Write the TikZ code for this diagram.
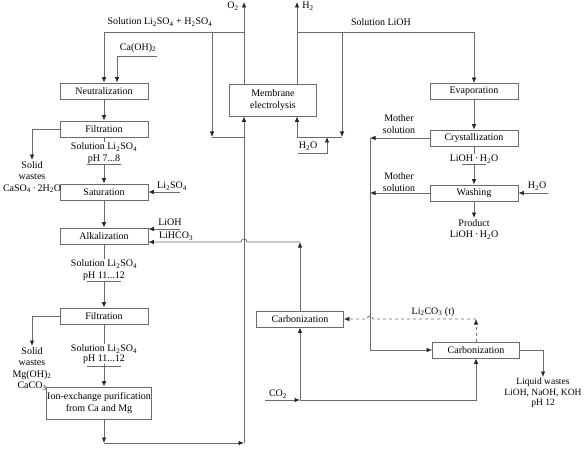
\documentclass[tikz,border=0pt]{standalone}
\usepackage{fontspec}
\setmainfont{Liberation Serif}
\usetikzlibrary{arrows.meta}
\definecolor{linegray}{gray}{0.42}
\newcommand{\chemsub}[1]{\textsubscript{#1}}
\tikzset{
  proc/.style={draw=linegray, line width=0.8pt, minimum width=88pt, minimum height=16pt,
    inner sep=1pt, align=center, font=\fontsize{10}{12}\selectfont},
  lbl/.style={inner sep=1pt, align=center, font=\fontsize{10}{11.5}\selectfont},
  wline/.style={draw=linegray, line width=0.8pt},
  flow/.style={wline, -{Latex[length=5.5pt,width=4.6pt,color=black!85]}}
}
\begin{document}
\begin{tikzpicture}[x=1pt, y=-1pt]
    \useasboundingbox (0,0) rectangle (585,449);

    \node[proc] (neut) at (104,91) {Neutralization};
    \node[proc] (filt1) at (104,129) {Filtration};
    \node[proc] (sat) at (104,192) {Saturation};
    \node[proc] (alk) at (104,236) {Alkalization};
    \node[proc] (filt2) at (104,316) {Filtration};
    \node[proc, minimum width=98pt, minimum height=32pt] (ionex) at (99,403)
        {Ion-exchange purification\\from Ca and Mg};
    \node[proc, minimum width=87pt, minimum height=32pt] (memb) at (273,100)
        {Membrane\\electrolysis};
    \node[proc] (evap) at (474,91.5) {Evaporation};
    \node[proc] (cryst) at (474,138) {Crystallization};
    \node[proc] (wash) at (474,193) {Washing};
    \node[proc, minimum width=87pt] (carbA) at (300,319) {Carbonization};
    \node[proc, minimum width=87pt] (carbB) at (476,350) {Carbonization};

    \coordinate (o2) at (244,2);
    \coordinate (h2) at (297,2);
    \coordinate (acidT) at (244,32);
    \coordinate (acidB) at (212,32);
    \coordinate (acidR) at (212,137);
    \coordinate (membL) at (244,137);
    \coordinate (lioT) at (297,32);
    \coordinate (lioB) at (342,32);
    \coordinate (lioR) at (342,137);
    \coordinate (membR) at (297,137);
    \coordinate (h2oin) at (298,153);
    \coordinate (h2oup) at (327,137);
    \coordinate (caoh) at (157,56);
    \coordinate (li2in) at (180,192);
    \coordinate (liohin) at (180,229);
    \coordinate (hco) at (300,242);
    \coordinate (ionC) at (104,443);
    \coordinate (feedC) at (244,443);
    \coordinate (moth) at (370,138);
    \coordinate (h2oW) at (548,193);
    \coordinate (licO) at (476,319);
    \coordinate (co2in) at (265,400);
    \coordinate (co2c) at (300,400);

    \node[lbl] (o2lbl) at (233,6) {O\chemsub{2}};
    \node[lbl] (h2lbl) at (308,6) {H\chemsub{2}};
    \node[lbl] (acidlbl) at (160,22) {Solution Li\chemsub{2}SO\chemsub{4} + H\chemsub{2}SO\chemsub{4}};
    \node[lbl] (liolbl) at (381,22) {Solution LiOH};
    \node[lbl] (caohlbl) at (138,48) {Ca(OH)\chemsub{2}};
    \node[lbl] (h2olblA) at (308,146) {H\chemsub{2}O};
    \node[lbl, anchor=north] (wasteA) at (32,160)
        {Solid\\wastes\\CaSO\chemsub{4}\,·\,2H\chemsub{2}O};
    \node[lbl] (li2lbl) at (172,186) {Li\chemsub{2}SO\chemsub{4}};
    \node[lbl] (liohlbl) at (170,222) {LiOH};
    \node[lbl] (hcolbl) at (176,236) {LiHCO\chemsub{3}};
    \node[lbl, anchor=north] (wasteB) at (32,346)
        {Solid\\wastes\\Mg(OH)\chemsub{2}\\CaCO\chemsub{3}};
    \node[lbl] (mothA) at (399,124) {Mother\\solution};
    \node[lbl] (mothB) at (399,182) {Mother\\solution};
    \node[lbl] (h2olblB) at (537,186) {H\chemsub{2}O};
    \node[lbl, anchor=north] (prod) at (474,218) {Product\\LiOH\,·\,H\chemsub{2}O};
    \node[lbl] (lico3lbl) at (433,312) {Li\chemsub{2}CO\chemsub{3} (t)};
    \node[lbl, anchor=north, font=\fontsize{9.5}{10.5}\selectfont] (liqw) at (543,377)
        {Liquid wastes\\LiOH, NaOH, KOH\\pH 12};
    \node[lbl] (co2lbl) at (278,394) {CO\chemsub{2}};

    \draw[flow] (acidT |- memb.north) -- (o2);
    \draw[flow] (acidT) -| (neut.north);
    \draw[flow] (lioT |- memb.north) -- (h2);
    \draw[flow] (lioT) -| (evap.north);
    \draw[flow] (acidB) -- (acidR);
    \draw[wline] (acidR) -- (membL);
    \draw[flow] (lioB) -- (lioR);
    \draw[wline] (lioR) -- (membR);
    \draw[flow] (membR) -- (membR |- memb.south);
    \draw[flow] (h2oin) -| (h2oup);
    \draw[flow] (caoh) -| ([xshift=13pt]neut.north);

    \draw[flow] (neut) -- (filt1);
    \draw[flow] (filt1.west) -| (wasteA.north);
    \draw[flow] (filt1) -- (sat);
    \node[lbl, fill=white] (solA) at (104,153) {Solution Li\chemsub{2}SO\chemsub{4}\\pH 7...8};
    \draw[wline] ([xshift=-17pt]solA.south) -- ([xshift=17pt]solA.south);
    \draw[flow] (li2in) -- (sat.east);
    \draw[flow] (sat) -- (alk);
    \draw[flow] (liohin) -- (liohin -| alk.east);
    \draw[flow] (carbA) -- (hco);
    \draw[flow] (hco) -- (247,242) arc (0:-180:3) -- (hco -| alk.east);
    \draw[flow] (alk) -- (filt2);
    \node[lbl, fill=white] (solB) at (104,270) {Solution Li\chemsub{2}SO\chemsub{4}\\pH 11...12};
    \draw[wline] ([xshift=-17pt]solB.south) -- ([xshift=17pt]solB.south);
    \draw[flow] (filt2.west) -| (wasteB.north);
    \draw[flow] (filt2) -- (filt2.south |- ionex.north);
    \node[lbl, fill=white, font=\fontsize{10}{9.5}\selectfont] (solC) at (104,354)
        {Solution Li\chemsub{2}SO\chemsub{4}\\pH 11...12};
    \draw[wline] ([xshift=-17pt,yshift=-2pt]solC.south) -- ([xshift=17pt,yshift=-2pt]solC.south);
    \draw[flow] (ionC |- ionex.south) -- (ionC);
    \draw[flow] (ionC) -- (feedC);
    \draw[flow] (feedC) -- (feedC |- memb.south);

    \draw[flow] (evap) -- (cryst);
    \draw[flow] (cryst.west) -- (moth);
    \draw[flow] (moth) |- (carbB.west);
    \draw[flow] (wash.west) -- (wash.west -| moth);
    \draw[flow] (cryst) -- (wash);
    \node[lbl, fill=white] (liohA) at (474,159) {LiOH\,·\,H\chemsub{2}O};
    \draw[wline] ([xshift=-12pt]liohA.south) -- ([xshift=12pt]liohA.south);
    \draw[flow] (h2oW) -- (wash.east);
    \draw[flow] (wash) -- (prod);

    \draw[flow, dashed] (carbB) -- (licO);
    \draw[flow, dashed] (licO) -- (373,319) arc (0:-180:3) -- (carbA.east);
    \draw[flow] (carbB.east) -| (liqw.north);
    \draw[flow] (co2in) -- (co2c);
    \draw[flow] (co2c) -- (carbA);
    \draw[flow] (co2c) -| (carbB);
\end{tikzpicture}
\end{document}
